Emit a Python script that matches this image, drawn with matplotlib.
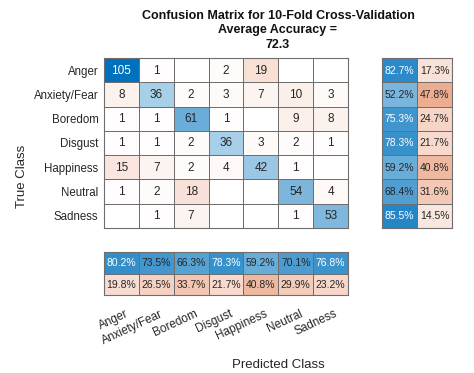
import numpy as np
import matplotlib.pyplot as plt

plt.rcParams['font.family'] = ['Liberation Sans', 'DejaVu Sans']

classes = ['Anger', 'Anxiety/Fear', 'Boredom', 'Disgust', 'Happiness', 'Neutral', 'Sadness']
cm = np.array([
    [105, 1, 0, 2, 19, 0, 0],
    [8, 36, 2, 3, 7, 10, 3],
    [1, 1, 61, 1, 0, 9, 8],
    [1, 1, 2, 36, 3, 2, 1],
    [15, 7, 2, 4, 42, 1, 0],
    [1, 2, 18, 0, 0, 54, 4],
    [0, 1, 7, 0, 0, 1, 53],
])
avg_acc = 72.3

blue = np.array([0.0, 0.447, 0.741])
orange = np.array([0.85, 0.325, 0.098])
txt = '#262626'
edge = '#6e6e6e'


def shade(base, frac):
    frac = np.clip(frac, 0, 1)[..., None]
    return 1 - frac * (1 - base)


n = len(classes)
diag = np.eye(n, dtype=bool)
frac = cm / cm.max()
colors = np.where(diag[..., None], shade(blue, frac), shade(orange, frac))

row_pct = np.diag(cm) / cm.sum(axis=1) * 100
col_pct = np.diag(cm) / cm.sum(axis=0) * 100

W, H = 474, 373
fig = plt.figure(figsize=(W / 100, H / 100), dpi=100)


def px_axes(x0, y0, x1, y1):
    return fig.add_axes([x0 / W, 1 - y1 / H, (x1 - x0) / W, (y1 - y0) / H])


# main matrix
ax = px_axes(104, 58, 348, 228)
ax.pcolormesh(np.arange(n + 1), np.arange(n + 1), colors, edgecolors=edge, linewidth=0.7)
ax.set_xlim(0, n)
ax.set_ylim(n, 0)
for i in range(n):
    for j in range(n):
        if cm[i, j] > 0:
            c = 'white' if (diag[i, j] and frac[i, j] > 0.75) else txt
            ax.text(j + 0.5, i + 0.52, str(cm[i, j]), ha='center', va='center', fontsize=8.5, color=c)
ax.set_xticks([])
ax.set_yticks(np.arange(n) + 0.5)
ax.set_yticklabels(classes, fontsize=8.3, color=txt)
ax.tick_params(length=0, pad=4)
for s in ax.spines.values():
    s.set_color(edge)

# row summary (right)
axr = px_axes(382, 58, 452, 228)
rv = np.stack([row_pct, 100 - row_pct], axis=1)
rc = np.stack([shade(blue, row_pct / 100), shade(orange, (100 - row_pct) / 100)], axis=1)
axr.pcolormesh(np.arange(3), np.arange(n + 1), rc, edgecolors=edge, linewidth=0.7)
axr.set_xlim(0, 2)
axr.set_ylim(n, 0)
for i in range(n):
    for j in range(2):
        c = 'white' if (j == 0 and rv[i, j] > 74.5) else txt
        axr.text(j + 0.5, i + 0.52, f'{rv[i, j]:.1f}%', ha='center', va='center', fontsize=7.5, color=c)
axr.set_xticks([])
axr.set_yticks([])
for s in axr.spines.values():
    s.set_color(edge)

# column summary (bottom)
axc = px_axes(104, 252, 348, 295)
cv = np.stack([col_pct, 100 - col_pct], axis=0)
cc = np.stack([shade(blue, col_pct / 100), shade(orange, (100 - col_pct) / 100)], axis=0)
axc.pcolormesh(np.arange(n + 1), np.arange(3), cc, edgecolors=edge, linewidth=0.7)
axc.set_xlim(0, n)
axc.set_ylim(2, 0)
for i in range(2):
    for j in range(n):
        c = 'white' if (i == 0 and cv[i, j] > 74.5) else txt
        axc.text(j + 0.5, i + 0.52, f'{cv[i, j]:.1f}%', ha='center', va='center', fontsize=7.5, color=c)
axc.set_yticks([])
axc.set_xticks([])
for j, name in enumerate(classes):
    axc.text(j + 0.6, -0.3, name, transform=axc.get_xaxis_transform(), fontsize=8.5, color=txt,
             rotation=25, ha='right', va='top', rotation_mode='anchor')
for s in axc.spines.values():
    s.set_color(edge)

fig.text(278 / W, 1 - 371 / H, 'Predicted Class', ha='center', va='bottom', fontsize=9.5, color=txt)
fig.text(22 / W, 1 - 176 / H, 'True Class', ha='center', va='center', rotation=90, fontsize=9.5, color=txt)
fig.text(278 / W, 1 - 10 / H,
         f'Confusion Matrix for 10-Fold Cross-Validation\nAverage Accuracy =\n{avg_acc}',
         ha='center', va='top', fontsize=9, fontweight='bold', color='#111111', linespacing=1.25)

fig.savefig('out.png', dpi=100)
